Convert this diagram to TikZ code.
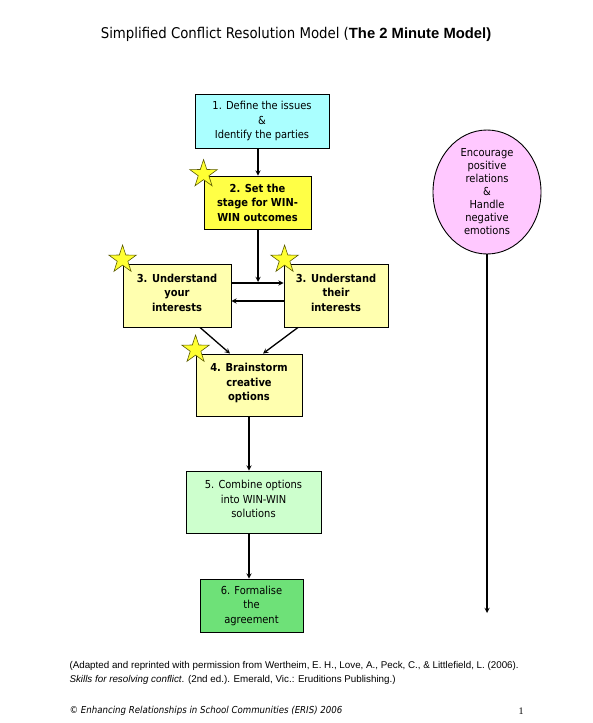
\documentclass[tikz,border=0pt]{standalone}
\usepackage{fontspec}
\setmainfont{DejaVu Sans Condensed}
\newfontfamily\arialfont{Liberation Sans}
\newfontfamily\timesfont{Liberation Serif}
\usetikzlibrary{shapes.geometric}

\definecolor{issuecyan}{RGB}{170,255,255}
\definecolor{stageyellow}{RGB}{255,255,70}
\definecolor{paleyellow}{RGB}{255,255,175}
\definecolor{palegreen}{RGB}{205,255,205}
\definecolor{agreegreen}{RGB}{110,225,120}
\definecolor{emopink}{RGB}{255,200,255}
\definecolor{starfill}{RGB}{255,255,50}
\definecolor{starline}{RGB}{90,90,0}

\begin{document}
\begin{tikzpicture}[x=1pt,y=-1pt,>=stealth,
  box/.style={rectangle,draw,line width=0.9pt,align=center,inner sep=1pt,
    font=\fontsize{11}{14.5}\selectfont},
  boldbox/.style={box,font=\fontsize{11}{14.5}\selectfont\bfseries},
  starmark/.style={star,star points=5,star point ratio=2.6,minimum size=29pt,
    inner sep=0pt,draw=starline,fill=starfill,line width=0.6pt},
  arr/.style={->,line width=1.3pt}]
\useasboundingbox (0,0) rectangle (592,723);

% title
\node (title) at (296,34) {\fontsize{14.8}{16}\selectfont Simplified Conflict Resolution Model
  (\arialfont\bfseries The 2 Minute Model)};

% steps
\node [box,fill=issuecyan,minimum width=134pt,minimum height=54pt] (d) at (262,121)
  {1. Define the issues\\\&\\Identify the parties};
\node [boldbox,fill=stageyellow,minimum width=107pt,minimum height=53pt] (s) at (257.5,202.5)
  {2. Set the\\stage for WIN-\\WIN outcomes};
\node [boldbox,fill=paleyellow,minimum width=108pt,minimum height=63pt] (y) at (177,295.5)
  {3. Understand\\your\\interests\\[-9pt]};
\node [boldbox,fill=paleyellow,minimum width=104pt,minimum height=63pt] (t) at (336,295.5)
  {3. Understand\\their\\interests\\[-9pt]};
\node [boldbox,fill=paleyellow,minimum width=106pt,minimum height=62pt] (b) at (249,385)
  {4. Brainstorm\\creative\\options\\[-9pt]};
\node [box,fill=palegreen,minimum width=135pt,minimum height=62pt] (c) at (253.5,502)
  {5. Combine options\\into WIN-WIN\\solutions\\[-9pt]};
\node [box,fill=agreegreen,minimum width=103pt,minimum height=53pt] (f) at (251.5,605.5)
  {6. Formalise\\the\\agreement};

% emotions
\node [ellipse,draw,line width=0.9pt,fill=emopink,minimum width=108pt,minimum height=124pt,
  inner sep=0pt] (e) at (487,192) {};
\node [align=center,font=\fontsize{11}{13}\selectfont] (et) at (e)
  {Encourage\\positive\\relations\\\&\\Handle\\negative\\emotions};
\coordinate (z) at (487,613);

% connectors
\coordinate (j) at (258,282);
\draw [arr] (d.south -| j) -- (s.north -| j);
\draw [arr] (s.south -| j) -- (j);
\draw [arr] ([yshift=12.5pt]y.east) -- ([yshift=12.5pt]t.west);
\draw [arr] ([yshift=-5.5pt]t.west) -- ([yshift=-5.5pt]y.east);
\draw [arr] ([xshift=23pt]y.south) -- ([xshift=-19pt]b.north);
\draw [arr] ([xshift=-38pt]t.south) -- ([xshift=14pt]b.north);
\draw [arr] (b.south) -- (b.south |- c.north);
\draw [arr] (c.south -| b) -- (f.north -| b);
\draw [arr] (e.south) -- (z);

% stars
\node [starmark] at ([yshift=1.5pt]s.north west) {};
\node [starmark] at ([yshift=4pt]y.north west) {};
\node [starmark] at ([xshift=1pt,yshift=4pt]t.north west) {};
\node [starmark] at ([yshift=4pt]b.north west) {};

% footer
\node [anchor=west,align=left,font=\arialfont\fontsize{9.8}{14}\selectfont] (src) at (66,673)
  {(Adapted and reprinted with permission from Wertheim, E. H., Love, A., Peck, C., \& Littlefield, L. (2006).\\
  \textit{Skills for resolving conflict}. (2nd ed.). Emerald, Vic.: Eruditions Publishing.)};
\node [anchor=west,font=\fontsize{9.6}{11}\selectfont\itshape] (eris) at (66,711)
  {© Enhancing Relationships in School Communities (ERIS) 2006};
\node [font=\timesfont\fontsize{10}{12}\selectfont] (pg) at (521,711) {1};
\end{tikzpicture}
\end{document}
